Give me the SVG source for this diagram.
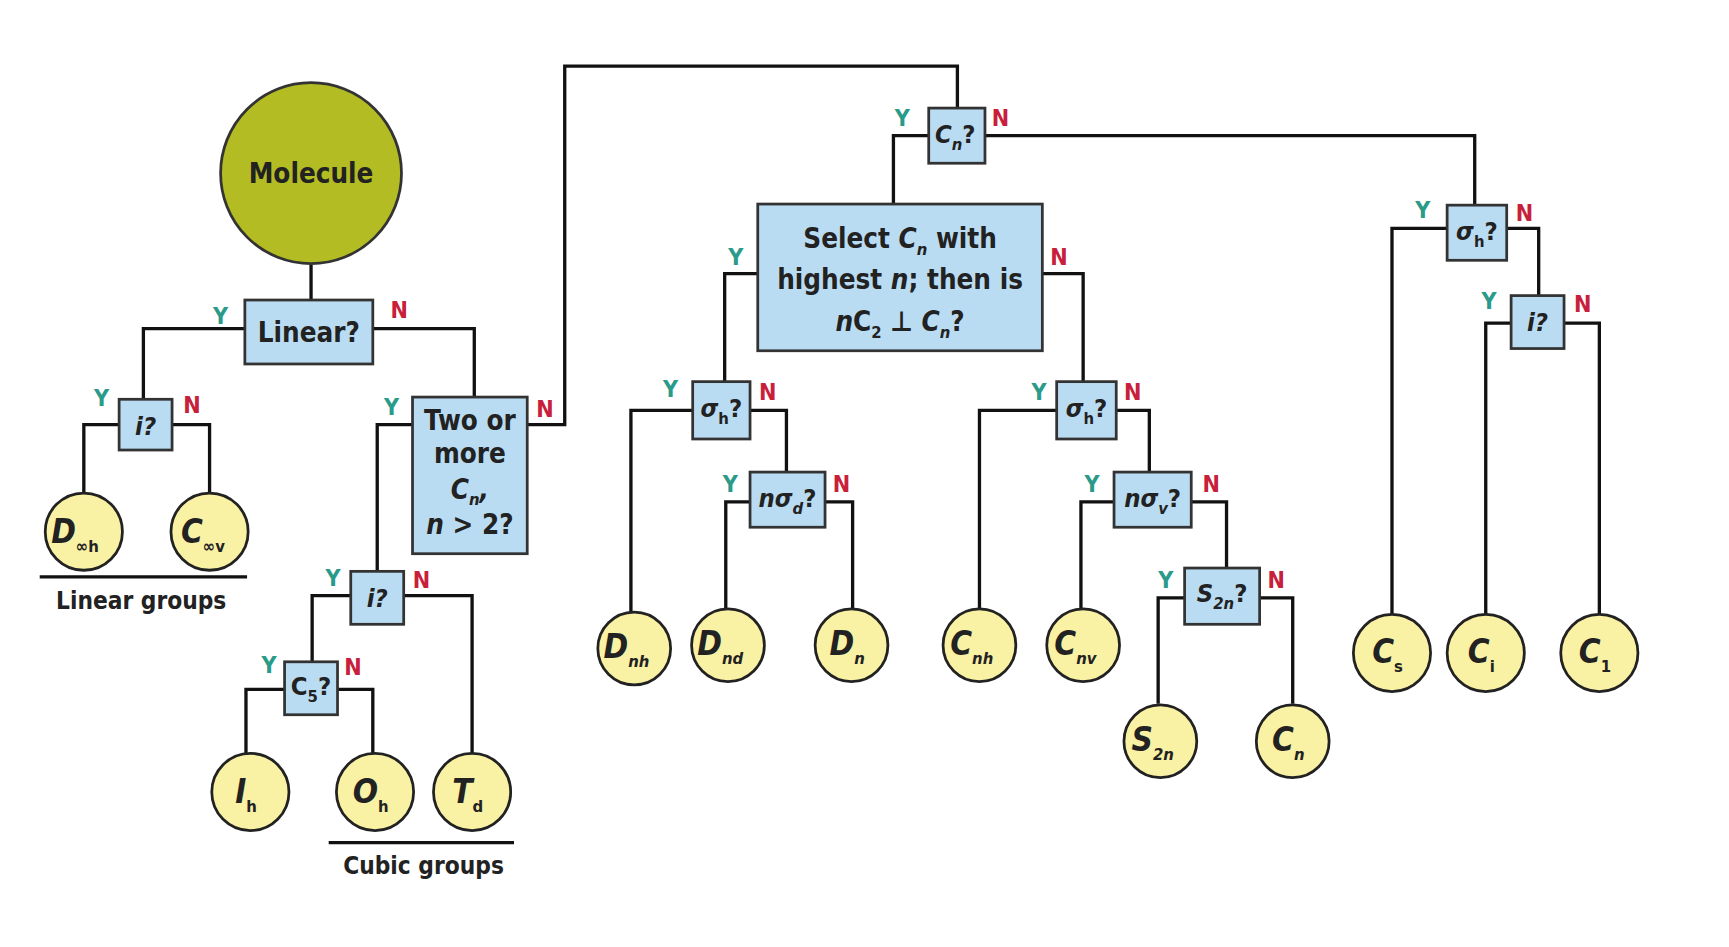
<svg xmlns="http://www.w3.org/2000/svg" width="1729" height="947" viewBox="0 0 1729 947">
<style>
.ln{fill:none;stroke:#111;stroke-width:3}
.bx{fill:#b9dcf3;stroke:#333;stroke-width:2.5}
.lf{fill:#f9f1a3;stroke:#222;stroke-width:2.5}
text{font-family:"DejaVu Sans Condensed","Liberation Sans",sans-serif;font-weight:bold;fill:#222;text-anchor:middle}
.t{font-size:25px}
.q{font-size:23px}
.y{fill:#2a9a8a;font-size:21px}
.n{fill:#c8203a;font-size:21px}
.s{font-size:30px;font-style:italic}
.sb{font-size:15px}
.cap{font-size:22px}
</style>
<rect width="1729" height="947" fill="#fff"/>
<g transform="scale(1.103)">
<g id="connectors">
<path class="ln" d="M282 240V272"/>
<path class="ln" d="M222 298H130V362M338 298H430V360"/>
<path class="ln" d="M108 385H76V448M156 385H190V448"/>
<path class="ln" d="M374 385H342V518M478 385H512V60H868V98"/>
<path class="ln" d="M318 540H283V600M366 540H428V685"/>
<path class="ln" d="M258 625H223V684M306 625H338V684"/>
<path class="ln" d="M842 123H810V185M893 123H1337V186"/>
<path class="ln" d="M687 248H657V346M945 248H982V346"/>
<path class="ln" d="M628 372H572V555M680 372H713V428"/>
<path class="ln" d="M680 455H658V552M748 455H773V552"/>
<path class="ln" d="M958 372H888V552M1012 372H1042V428"/>
<path class="ln" d="M1010 455H980V552M1080 455H1112V515"/>
<path class="ln" d="M1074 542H1050V638M1142 542H1172V638"/>
<path class="ln" d="M1312 207H1262V558M1366 207H1395V268"/>
<path class="ln" d="M1370 293H1347V558M1418 293H1450V558"/>
<path class="ln" d="M36 523H224M298 764H466"/>
</g>
<g id="molecule"><circle cx="282" cy="157" r="82" fill="#b3bc22" stroke="#333" stroke-width="2.5"/><text x="282" y="166" style="font-size:25px">Molecule</text></g>
<g id="linear"><rect class="bx" x="222" y="272" width="116" height="58"/><text class="t" x="280" y="310">Linear?</text><text class="y" x="200" y="294">Y</text><text class="n" x="362" y="288">N</text></g>
<g id="i1"><rect class="bx" x="108" y="362" width="48" height="46"/><text class="q" x="132" y="394" font-style="italic">i?</text><text class="y" x="92" y="368">Y</text><text class="n" x="174" y="374">N</text></g>
<g id="Dinfh"><circle class="lf" cx="76" cy="482" r="35"/><text class="s" x="68" y="492">D<tspan class="sb" dy="8" font-style="normal">∞h</tspan></text></g>
<g id="Cinfv"><circle class="lf" cx="190" cy="482" r="35"/><text class="s" x="184" y="492">C<tspan class="sb" dy="8" font-style="normal">∞v</tspan></text></g>
<text class="cap" x="128" y="552">Linear groups</text>
<g id="twoormore"><rect class="bx" x="374" y="360" width="104" height="142"/><text class="t" x="426" y="390">Two or</text><text class="t" x="426" y="420">more</text><text class="t" x="426" y="452" font-style="italic">C<tspan class="sb" dy="6">n</tspan><tspan dy="-6">,</tspan></text><text class="t" x="426" y="484"><tspan font-style="italic">n</tspan> &gt; 2?</text><text class="y" x="355" y="376">Y</text><text class="n" x="494" y="378">N</text></g>
<g id="i2"><rect class="bx" x="318" y="518" width="48" height="48"/><text class="q" x="342" y="550" font-style="italic">i?</text><text class="y" x="302" y="531">Y</text><text class="n" x="382" y="533">N</text></g>
<g id="c5"><rect class="bx" x="258" y="600" width="48" height="48"/><text class="q" x="282" y="630">C<tspan class="sb" dy="6">5</tspan><tspan dy="-6">?</tspan></text><text class="y" x="244" y="610">Y</text><text class="n" x="320" y="612">N</text></g>
<g id="Ih"><circle class="lf" cx="227" cy="718" r="35"/><text class="s" x="223" y="728">I<tspan class="sb" dy="8" font-style="normal">h</tspan></text></g>
<g id="Oh"><circle class="lf" cx="340" cy="718" r="35"/><text class="s" x="336" y="728">O<tspan class="sb" dy="8" font-style="normal">h</tspan></text></g>
<g id="Td"><circle class="lf" cx="428" cy="718" r="35"/><text class="s" x="424" y="728">T<tspan class="sb" dy="8" font-style="normal">d</tspan></text></g>
<text class="cap" x="384" y="792">Cubic groups</text>
<g id="cn"><rect class="bx" x="842" y="98" width="51" height="50"/><text class="q" x="866" y="130" font-style="italic">C<tspan class="sb" dy="6">n</tspan><tspan dy="-6" font-style="normal">?</tspan></text><text class="y" x="818" y="114">Y</text><text class="n" x="907" y="114">N</text></g>
<g id="select"><rect class="bx" x="687" y="185" width="258" height="133"/><text class="t" x="816" y="225">Select <tspan font-style="italic">C</tspan><tspan class="sb" dy="6" font-style="italic">n</tspan><tspan dy="-6"> with</tspan></text><text class="t" x="816" y="262">highest <tspan font-style="italic">n</tspan>; then is</text><text class="t" x="816" y="300"><tspan font-style="italic">n</tspan>C<tspan class="sb" dy="6">2</tspan><tspan dy="-6"> ⊥ </tspan><tspan font-style="italic">C</tspan><tspan class="sb" dy="6" font-style="italic">n</tspan><tspan dy="-6">?</tspan></text><text class="y" x="667" y="240">Y</text><text class="n" x="960" y="240">N</text></g>
<g id="sh1"><rect class="bx" x="628" y="346" width="52" height="52"/><text class="q" x="654" y="378"><tspan font-style="italic">σ</tspan><tspan class="sb" dy="6">h</tspan><tspan dy="-6">?</tspan></text><text class="y" x="608" y="360">Y</text><text class="n" x="696" y="363">N</text></g>
<g id="nsd"><rect class="bx" x="680" y="428" width="68" height="50"/><text class="q" x="714" y="460" font-style="italic">nσ<tspan class="sb" dy="6">d</tspan><tspan dy="-6" font-style="normal">?</tspan></text><text class="y" x="662" y="446">Y</text><text class="n" x="763" y="446">N</text></g>
<g id="Dnh"><circle class="lf" cx="575" cy="588" r="33"/><text class="s" x="568" y="597">D<tspan class="sb" dy="8">nh</tspan></text></g>
<g id="Dnd"><circle class="lf" cx="660" cy="585" r="33"/><text class="s" x="653" y="594">D<tspan class="sb" dy="8">nd</tspan></text></g>
<g id="Dn"><circle class="lf" cx="772" cy="585" r="33"/><text class="s" x="768" y="594">D<tspan class="sb" dy="8">n</tspan></text></g>
<g id="sh2"><rect class="bx" x="958" y="346" width="54" height="52"/><text class="q" x="985" y="378"><tspan font-style="italic">σ</tspan><tspan class="sb" dy="6">h</tspan><tspan dy="-6">?</tspan></text><text class="y" x="942" y="363">Y</text><text class="n" x="1027" y="363">N</text></g>
<g id="nsv"><rect class="bx" x="1010" y="428" width="70" height="50"/><text class="q" x="1045" y="460" font-style="italic">nσ<tspan class="sb" dy="6">v</tspan><tspan dy="-6" font-style="normal">?</tspan></text><text class="y" x="990" y="446">Y</text><text class="n" x="1098" y="446">N</text></g>
<g id="s2nq"><rect class="bx" x="1074" y="515" width="68" height="51"/><text class="q" x="1108" y="546" font-style="italic">S<tspan class="sb" dy="6">2n</tspan><tspan dy="-6" font-style="normal">?</tspan></text><text class="y" x="1057" y="533">Y</text><text class="n" x="1157" y="533">N</text></g>
<g id="Cnh"><circle class="lf" cx="888" cy="585" r="33"/><text class="s" x="881" y="594">C<tspan class="sb" dy="8">nh</tspan></text></g>
<g id="Cnv"><circle class="lf" cx="982" cy="585" r="33"/><text class="s" x="975" y="594">C<tspan class="sb" dy="8">nv</tspan></text></g>
<g id="S2n"><circle class="lf" cx="1052" cy="672" r="33"/><text class="s" x="1045" y="681">S<tspan class="sb" dy="8">2n</tspan></text></g>
<g id="Cn"><circle class="lf" cx="1172" cy="672" r="33"/><text class="s" x="1168" y="681">C<tspan class="sb" dy="8">n</tspan></text></g>
<g id="sh3"><rect class="bx" x="1312" y="186" width="54" height="50"/><text class="q" x="1339" y="218"><tspan font-style="italic">σ</tspan><tspan class="sb" dy="6">h</tspan><tspan dy="-6">?</tspan></text><text class="y" x="1290" y="198">Y</text><text class="n" x="1382" y="200">N</text></g>
<g id="i3"><rect class="bx" x="1370" y="268" width="48" height="48"/><text class="q" x="1394" y="300" font-style="italic">i?</text><text class="y" x="1350" y="280">Y</text><text class="n" x="1435" y="283">N</text></g>
<g id="Cs"><circle class="lf" cx="1262" cy="592" r="35"/><text class="s" x="1258" y="601">C<tspan class="sb" dy="8" font-style="normal">s</tspan></text></g>
<g id="Ci"><circle class="lf" cx="1347" cy="592" r="35"/><text class="s" x="1343" y="601">C<tspan class="sb" dy="8" font-style="normal">i</tspan></text></g>
<g id="C1"><circle class="lf" cx="1450" cy="592" r="35"/><text class="s" x="1446" y="601">C<tspan class="sb" dy="8" font-style="normal">1</tspan></text></g>
</g>
</svg>
